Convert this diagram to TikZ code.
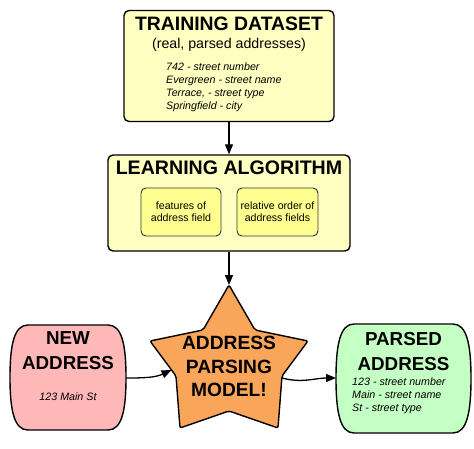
\documentclass[tikz,border=0pt]{standalone}
\usepackage{fontspec}
\setmainfont{Liberation Sans}
\usetikzlibrary{arrows.meta}
\definecolor{boxfill}{HTML}{FFFFC2}
\definecolor{innerfill}{HTML}{FFFF8F}
\definecolor{pinkfill}{HTML}{FFB8B8}
\definecolor{greenfill}{HTML}{C4FFC4}
\definecolor{orangefill}{HTML}{F9A65A}
\tikzset{
  bigbox/.style={draw=black, line width=1.4pt, fill=boxfill, rounded corners=5pt, inner sep=0pt},
  innerbox/.style={draw=black!80, line width=0.9pt, fill=innerfill, rounded corners=5pt, inner sep=0pt,
    align=center, font=\fontsize{10.6}{12}\selectfont},
  title/.style={font=\bfseries\fontsize{19.4}{23}\selectfont, inner sep=0pt},
  shapetitle/.style={font=\bfseries\fontsize{18.8}{24.5}\selectfont, inner sep=0pt, align=center},
  itlist/.style={font=\itshape\fontsize{10.7}{13}\selectfont, inner sep=0pt, align=left},
  shapeline/.style={draw=black, line width=1.4pt},
  arr/.style={draw=black, line width=1.3pt, -{Triangle[length=10pt,width=8pt]}}
}
\begin{document}
\begin{tikzpicture}[x=1pt,y=-1pt]
\useasboundingbox (0,0) rectangle (474,449);
\fill[white] (0,0) rectangle (474,449);

% Training dataset
\node[bigbox, minimum width=210pt, minimum height=111pt] (train) at (229,66) {};
\node[title] (traint) at (229,24) {TRAINING DATASET};
\node[font=\fontsize{14.2}{17}\selectfont, inner sep=0pt] (trainsub) at (229,45) {(real, parsed addresses)};
\node[itlist, anchor=west] (trainlist) at (166,87.5) {742 - street number\\Evergreen - street name\\Terrace, - street type\\Springfield - city};

% Learning algorithm
\node[bigbox, minimum width=242pt, minimum height=96pt] (learn) at (229,203) {};
\node[title, font=\bfseries\fontsize{19.6}{23}\selectfont] (learnt) at (229,168) {LEARNING ALGORITHM};
\node[innerbox, minimum width=80pt, minimum height=48pt] (feat) at (181,212) {features of\\address field};
\node[innerbox, minimum width=81pt, minimum height=48pt] (rel) at (277.5,212) {relative order of\\address fields};

% Star
\draw[shapeline, fill=orangefill, rounded corners=2pt]
  (229,285) -- (255,330) -- (308,341) -- (282,376) -- (278,428) -- (229,411)
  -- (180,428) -- (176,376) -- (150,341) -- (203,330) -- cycle;
\coordinate (startop) at (229,285);
\coordinate (starL) at (171.5,370);
\coordinate (starR) at (282,378);
\node[shapetitle, font=\bfseries\fontsize{19.2}{23.5}\selectfont] (startext) at (229,366.5) {ADDRESS\\PARSING\\MODEL!};

% New address
\draw[shapeline, fill=pinkfill]
  (28,325) -- (108,325) .. controls (122,325) and (126,345) .. (126,377.5)
  .. controls (126,410) and (122,430) .. (108,430) -- (28,430)
  .. controls (14,430) and (10,410) .. (10,377.5)
  .. controls (10,345) and (14,325) .. (28,325) -- cycle;
\coordinate (newR) at (126,378);
\node[shapetitle] (newt) at (68,350.5) {NEW\\ADDRESS};
\node[font=\itshape\fontsize{10.7}{13}\selectfont, inner sep=0pt] (newx) at (68,397) {123 Main St};

% Parsed address
\draw[shapeline, fill=greenfill]
  (354,324) -- (453,324) .. controls (467,324) and (471,345) .. (471,378.5)
  .. controls (471,412) and (467,433) .. (453,433) -- (354,433)
  .. controls (340,433) and (336,412) .. (336,378.5)
  .. controls (336,345) and (340,324) .. (354,324) -- cycle;
\coordinate (parsedL) at (336,378);
\node[shapetitle] (parsedt) at (403.5,351.5) {PARSED\\ADDRESS};
\node[itlist, anchor=west] (parsedlist) at (352,395.5) {123 - street number\\Main - street name\\St - street type};

% Connectors
\draw[arr] (train.south) -- (learn.north);
\draw[arr] (learn.south) -- (startop);
\draw[arr] (newR) to[out=0, in=205] (starL);
\draw[arr] (starR) to[out=-15, in=180] (parsedL);
\end{tikzpicture}
\end{document}
